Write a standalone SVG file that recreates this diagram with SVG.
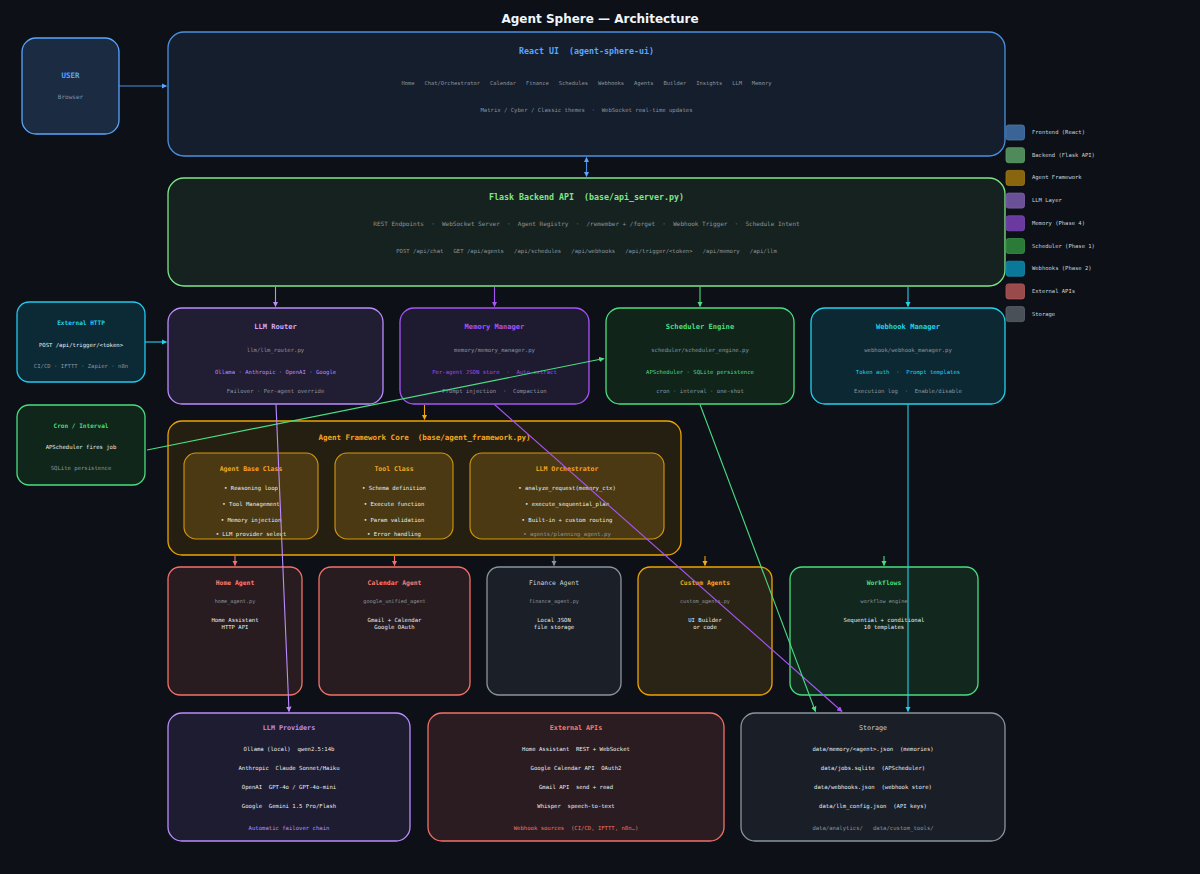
<svg xmlns="http://www.w3.org/2000/svg" width="1200" height="874" viewBox="0 0 1200 874">
<defs>
<style>
text{font-family:"DejaVu Sans Mono","Liberation Mono",monospace;text-anchor:middle}
.h{font-weight:bold}
.b{font-size:5.6px}
.g{fill:#8b949e}
.w{fill:#e6edf3}
.lg{font-size:5.5px;fill:#c9d1d9;text-anchor:start}
.c{fill:none;stroke-width:1.1}
</style>
<marker id="aBlue" viewBox="0 0 10 10" refX="9" refY="5" markerWidth="5" markerHeight="5" orient="auto-start-reverse"><path d="M0,0L10,5L0,10z" fill="#58a6ff"/></marker>
<marker id="aPur" viewBox="0 0 10 10" refX="9" refY="5" markerWidth="5" markerHeight="5" orient="auto"><path d="M0,0L10,5L0,10z" fill="#bc8cff"/></marker>
<marker id="aVio" viewBox="0 0 10 10" refX="9" refY="5" markerWidth="5" markerHeight="5" orient="auto"><path d="M0,0L10,5L0,10z" fill="#a855f7"/></marker>
<marker id="aGrn" viewBox="0 0 10 10" refX="9" refY="5" markerWidth="5" markerHeight="5" orient="auto"><path d="M0,0L10,5L0,10z" fill="#4ade80"/></marker>
<marker id="aCyn" viewBox="0 0 10 10" refX="9" refY="5" markerWidth="5" markerHeight="5" orient="auto"><path d="M0,0L10,5L0,10z" fill="#22d3ee"/></marker>
<marker id="aOrg" viewBox="0 0 10 10" refX="9" refY="5" markerWidth="5" markerHeight="5" orient="auto"><path d="M0,0L10,5L0,10z" fill="#f5a623"/></marker>
<marker id="aRed" viewBox="0 0 10 10" refX="9" refY="5" markerWidth="5" markerHeight="5" orient="auto"><path d="M0,0L10,5L0,10z" fill="#f47067"/></marker>
<marker id="aGry" viewBox="0 0 10 10" refX="9" refY="5" markerWidth="5" markerHeight="5" orient="auto"><path d="M0,0L10,5L0,10z" fill="#8b949e"/></marker>
</defs>
<rect width="1200" height="874" fill="#0d1117"/>
<text x="600" y="22.5" style="font-family:'DejaVu Sans',sans-serif;font-size:12px;font-weight:bold" fill="#f0f6fc">Agent Sphere — Architecture</text>

<g id="user">
<rect x="22" y="38" width="97" height="96" rx="14" fill="#1b2b42" stroke="#58a6ff" stroke-width="1.3"/>
<text x="70.5" y="77.7" class="h" font-size="7.5" fill="#58a6ff">USER</text>
<text x="70.5" y="99" font-size="6" class="g">Browser</text>
</g>

<g id="react-ui">
<rect x="168" y="32" width="837" height="124" rx="16" fill="#141e2d" stroke="#4a90e2" stroke-width="1.3"/>
<text x="586.5" y="54" class="h" font-size="8.3" fill="#58a6ff" xml:space="preserve">React UI  (agent-sphere-ui)</text>
<text x="586.5" y="85" font-size="5.45" class="g" xml:space="preserve">Home   Chat/Orchestrator   Calendar   Finance   Schedules   Webhooks   Agents   Builder   Insights   LLM   Memory</text>
<text x="586.5" y="112" class="b g" xml:space="preserve">Matrix / Cyber / Classic themes  ·  WebSocket real-time updates</text>
</g>

<g id="flask">
<rect x="168" y="178" width="837" height="108" rx="16" fill="#16221f" stroke="#7ee787" stroke-width="1.3"/>
<text x="586.5" y="200" class="h" font-size="8.3" fill="#7ee787" xml:space="preserve">Flask Backend API  (base/api_server.py)</text>
<text x="586.5" y="226.2" font-size="6" class="g" xml:space="preserve">REST Endpoints  ·  WebSocket Server  ·  Agent Registry  ·  /remember + /forget  ·  Webhook Trigger  ·  Schedule Intent</text>
<text x="586.5" y="253" class="b g" xml:space="preserve">POST /api/chat   GET /api/agents   /api/schedules   /api/webhooks   /api/trigger/&lt;token&gt;   /api/memory   /api/llm</text>
</g>

<g id="legend">
<rect x="1006" y="125" width="18.5" height="15" rx="2.5" fill="#3b6496" stroke="#4a78b0" stroke-width="0.8"/>
<text x="1032" y="134" class="lg">Frontend (React)</text>
<rect x="1006" y="147.7" width="18.5" height="15" rx="2.5" fill="#4e8a5a" stroke="#5ea06a" stroke-width="0.8"/>
<text x="1032" y="156.7" class="lg">Backend (Flask API)</text>
<rect x="1006" y="170.4" width="18.5" height="15" rx="2.5" fill="#8a6510" stroke="#a07818" stroke-width="0.8"/>
<text x="1032" y="179.4" class="lg">Agent Framework</text>
<rect x="1006" y="193.1" width="18.5" height="15" rx="2.5" fill="#6a5096" stroke="#7e62ac" stroke-width="0.8"/>
<text x="1032" y="202.1" class="lg">LLM Layer</text>
<rect x="1006" y="215.8" width="18.5" height="15" rx="2.5" fill="#6a3aa0" stroke="#7c4ab4" stroke-width="0.8"/>
<text x="1032" y="224.8" class="lg">Memory (Phase 4)</text>
<rect x="1006" y="238.5" width="18.5" height="15" rx="2.5" fill="#2a7a38" stroke="#3a9048" stroke-width="0.8"/>
<text x="1032" y="247.5" class="lg">Scheduler (Phase 1)</text>
<rect x="1006" y="261.2" width="18.5" height="15" rx="2.5" fill="#0a7898" stroke="#1a8cb0" stroke-width="0.8"/>
<text x="1032" y="270.2" class="lg">Webhooks (Phase 2)</text>
<rect x="1006" y="283.9" width="18.5" height="15" rx="2.5" fill="#9a4a4a" stroke="#b05c5c" stroke-width="0.8"/>
<text x="1032" y="292.9" class="lg">External APIs</text>
<rect x="1006" y="306.6" width="18.5" height="15" rx="2.5" fill="#4a5058" stroke="#5c636c" stroke-width="0.8"/>
<text x="1032" y="315.6" class="lg">Storage</text>
</g>

<g id="external-http">
<rect x="17" y="302" width="128" height="80" rx="12" fill="#0b2a35" stroke="#22c8ee" stroke-width="1.3"/>
<text x="81" y="325.2" class="h" font-size="6.1" fill="#22d3ee">External HTTP</text>
<text x="81" y="347" class="b w">POST /api/trigger/&lt;token&gt;</text>
<text x="81" y="368" class="b g">CI/CD · IFTTT · Zapier · n8n</text>
</g>

<g id="cron">
<rect x="17" y="405" width="128" height="80" rx="12" fill="#11261a" stroke="#4ade80" stroke-width="1.3"/>
<text x="81" y="428.2" class="h" font-size="6.1" fill="#4ade80">Cron / Interval</text>
<text x="81" y="449" class="b w">APScheduler fires job</text>
<text x="81" y="470" class="b g">SQLite persistence</text>
</g>

<g id="llm-router">
<rect x="168" y="308" width="215" height="96" rx="14" fill="#211d33" stroke="#bc8cff" stroke-width="1.3"/>
<text x="275.5" y="328.6" class="h" font-size="7.1" fill="#d2a8ff">LLM Router</text>
<text x="275.5" y="352" class="b g">llm/llm_router.py</text>
<text x="275.5" y="374" class="b" fill="#bc8cff">Ollama · Anthropic · OpenAI · Google</text>
<text x="275.5" y="393" class="b g">Failover · Per-agent override</text>
</g>

<g id="memory-manager">
<rect x="400" y="308" width="189" height="96" rx="14" fill="#1e1a30" stroke="#a855f7" stroke-width="1.3"/>
<text x="494.5" y="328.6" class="h" font-size="7.1" fill="#a855f7">Memory Manager</text>
<text x="494.5" y="352" class="b g">memory/memory_manager.py</text>
<text x="494.5" y="374" class="b" fill="#9b4ee8" xml:space="preserve">Per-agent JSON store  ·  Auto-extract</text>
<text x="494.5" y="393" class="b g" xml:space="preserve">Prompt injection  ·  Compaction</text>
</g>

<g id="scheduler-engine">
<rect x="606" y="308" width="188" height="96" rx="14" fill="#10241a" stroke="#4ade80" stroke-width="1.3"/>
<text x="700" y="328.6" class="h" font-size="7.1" fill="#4ade80">Scheduler Engine</text>
<text x="700" y="352" class="b g">scheduler/scheduler_engine.py</text>
<text x="700" y="374" class="b" fill="#4ade80">APScheduler · SQLite persistence</text>
<text x="700" y="393" class="b g">cron · interval · one-shot</text>
</g>

<g id="webhook-manager">
<rect x="811" y="308" width="194" height="96" rx="14" fill="#0b2833" stroke="#22d3ee" stroke-width="1.3"/>
<text x="908" y="328.6" class="h" font-size="7.1" fill="#22d3ee">Webhook Manager</text>
<text x="908" y="352" class="b g">webhook/webhook_manager.py</text>
<text x="908" y="374" class="b" fill="#22d3ee" xml:space="preserve">Token auth  ·  Prompt templates</text>
<text x="908" y="393" class="b g" xml:space="preserve">Execution log  ·  Enable/disable</text>
</g>

<g id="agent-framework">
<rect x="168" y="421" width="513" height="134" rx="14" fill="#241f10" stroke="#f0a500" stroke-width="1.3"/>
<text x="424.5" y="439.7" class="h" font-size="7.5" fill="#f5a623" xml:space="preserve">Agent Framework Core  (base/agent_framework.py)</text>
</g>

<g id="agent-base-class">
<rect x="184" y="453" width="134" height="86" rx="12" fill="#4a3912" stroke="#d4980f" stroke-width="1.1"/>
<text x="251" y="471.3" class="h" font-size="6.5" fill="#f5a623">Agent Base Class</text>
<text x="251" y="490" class="b w">• Reasoning loop</text>
<text x="251" y="506" class="b w">• Tool Management</text>
<text x="251" y="522" class="b w">• Memory injection</text>
<text x="251" y="536" class="b w">• LLM provider select</text>
</g>

<g id="tool-class">
<rect x="335" y="453" width="118" height="86" rx="12" fill="#4a3912" stroke="#d4980f" stroke-width="1.1"/>
<text x="394" y="471.3" class="h" font-size="6.5" fill="#f5a623">Tool Class</text>
<text x="394" y="490" class="b w">• Schema definition</text>
<text x="394" y="506" class="b w">• Execute function</text>
<text x="394" y="522" class="b w">• Param validation</text>
<text x="394" y="536" class="b w">• Error handling</text>
</g>

<g id="llm-orchestrator">
<rect x="470" y="453" width="194" height="86" rx="12" fill="#4a3912" stroke="#d4980f" stroke-width="1.1"/>
<text x="567" y="471.3" class="h" font-size="6.5" fill="#f5a623">LLM Orchestrator</text>
<text x="567" y="490" class="b w">• analyze_request(memory_ctx)</text>
<text x="567" y="506" class="b w">• execute_sequential_plan</text>
<text x="567" y="522" class="b w">• Built-in + custom routing</text>
<text x="567" y="536" class="b g">• agents/planning_agent.py</text>
</g>

<g id="home-agent">
<rect x="168" y="567" width="134" height="128" rx="12" fill="#281c20" stroke="#f47067" stroke-width="1.3"/>
<text x="235" y="585" class="h" font-size="6.4" fill="#ff7b72">Home Agent</text>
<text x="235" y="603" font-size="5.2" class="g">home_agent.py</text>
<text x="235" y="622" class="b w">Home Assistant</text>
<text x="235" y="628.5" class="b w">HTTP API</text>
</g>

<g id="calendar-agent">
<rect x="319" y="567" width="151" height="128" rx="12" fill="#281c20" stroke="#f47067" stroke-width="1.3"/>
<text x="394.5" y="585" class="h" font-size="6.4" fill="#ff7b72">Calendar Agent</text>
<text x="394.5" y="603" font-size="5.2" class="g">google_unified_agent</text>
<text x="394.5" y="622" class="b w">Gmail + Calendar</text>
<text x="394.5" y="628.5" class="b w">Google OAuth</text>
</g>

<g id="finance-agent">
<rect x="487" y="567" width="134" height="128" rx="12" fill="#1b1f27" stroke="#8b949e" stroke-width="1.3"/>
<text x="554" y="585" font-size="6.4" fill="#c9d1d9">Finance Agent</text>
<text x="554" y="603" font-size="5.2" class="g">finance_agent.py</text>
<text x="554" y="622" class="b w">Local JSON</text>
<text x="554" y="628.5" class="b w">file storage</text>
</g>

<g id="custom-agents">
<rect x="638" y="567" width="134" height="128" rx="12" fill="#2a2416" stroke="#f0a500" stroke-width="1.3"/>
<text x="705" y="585" class="h" font-size="6.4" fill="#f5a623">Custom Agents</text>
<text x="705" y="603" font-size="5.2" class="g">custom_agents.py</text>
<text x="705" y="622" class="b w">UI Builder</text>
<text x="705" y="628.5" class="b w">or code</text>
</g>

<g id="workflows">
<rect x="790" y="567" width="188" height="128" rx="12" fill="#12281e" stroke="#4ade80" stroke-width="1.3"/>
<text x="884" y="585" class="h" font-size="6.4" fill="#4ade80">Workflows</text>
<text x="884" y="603" font-size="5.2" class="g">workflow engine</text>
<text x="884" y="622" class="b w">Sequential + conditional</text>
<text x="884" y="628.5" class="b w">10 templates</text>
</g>

<g id="llm-providers">
<rect x="168" y="713" width="242" height="128" rx="14" fill="#1e1c30" stroke="#bc8cff" stroke-width="1.3"/>
<text x="289" y="730.4" class="h" font-size="6.7" fill="#bc8cff">LLM Providers</text>
<text x="289" y="751.3" class="b w" xml:space="preserve">Ollama (local)  qwen2.5:14b</text>
<text x="289" y="770" class="b w" xml:space="preserve">Anthropic  Claude Sonnet/Haiku</text>
<text x="289" y="789" class="b w" xml:space="preserve">OpenAI  GPT-4o / GPT-4o-mini</text>
<text x="289" y="808" class="b w" xml:space="preserve">Google  Gemini 1.5 Pro/Flash</text>
<text x="289" y="830" class="b" fill="#bc8cff">Automatic failover chain</text>
</g>

<g id="external-apis">
<rect x="428" y="713" width="296" height="128" rx="14" fill="#2a1c20" stroke="#f47067" stroke-width="1.3"/>
<text x="576" y="730.4" class="h" font-size="6.7" fill="#ff7b72">External APIs</text>
<text x="576" y="751.3" class="b w" xml:space="preserve">Home Assistant  REST + WebSocket</text>
<text x="576" y="770" class="b w" xml:space="preserve">Google Calendar API  OAuth2</text>
<text x="576" y="789" class="b w" xml:space="preserve">Gmail API  send + read</text>
<text x="576" y="808" class="b w" xml:space="preserve">Whisper  speech-to-text</text>
<text x="576" y="830" class="b" fill="#f47067" xml:space="preserve">Webhook sources  (CI/CD, IFTTT, n8n…)</text>
</g>

<g id="storage">
<rect x="741" y="713" width="264" height="128" rx="14" fill="#1a1e26" stroke="#8b949e" stroke-width="1.3"/>
<text x="873" y="730.4" font-size="6.7" fill="#c9d1d9">Storage</text>
<text x="873" y="751.3" class="b w" xml:space="preserve">data/memory/&lt;agent&gt;.json  (memories)</text>
<text x="873" y="770" class="b w" xml:space="preserve">data/jobs.sqlite  (APScheduler)</text>
<text x="873" y="789" class="b w" xml:space="preserve">data/webhooks.json  (webhook store)</text>
<text x="873" y="808" class="b w" xml:space="preserve">data/llm_config.json  (API keys)</text>
<text x="873" y="830" class="b g" xml:space="preserve">data/analytics/   data/custom_tools/</text>
</g>

<g id="connectors">
<line class="c" x1="119" y1="86" x2="166.5" y2="86" stroke="#4a90e2" marker-end="url(#aBlue)"/>
<line class="c" x1="586.5" y1="157.5" x2="586.5" y2="176.5" stroke="#4a90e2" marker-start="url(#aBlue)" marker-end="url(#aBlue)"/>
<line class="c" x1="275.5" y1="287" x2="275.5" y2="306.5" stroke="#bc8cff" marker-end="url(#aPur)"/>
<line class="c" x1="494.5" y1="287" x2="494.5" y2="306.5" stroke="#a855f7" marker-end="url(#aVio)"/>
<line class="c" x1="700" y1="287" x2="700" y2="306.5" stroke="#4ade80" marker-end="url(#aGrn)"/>
<line class="c" x1="908" y1="287" x2="908" y2="306.5" stroke="#22d3ee" marker-end="url(#aCyn)"/>
<line class="c" x1="145" y1="342" x2="166.5" y2="342" stroke="#22d3ee" marker-end="url(#aCyn)"/>
<line class="c" x1="147" y1="450" x2="604" y2="358.5" stroke="#4ade80" marker-end="url(#aGrn)"/>
<line class="c" x1="424.5" y1="405" x2="424.5" y2="419.5" stroke="#f0a500" marker-end="url(#aOrg)"/>
<line class="c" x1="235" y1="556" x2="235" y2="565.5" stroke="#f47067" marker-end="url(#aRed)"/>
<line class="c" x1="394.5" y1="556" x2="394.5" y2="565.5" stroke="#f47067" marker-end="url(#aRed)"/>
<line class="c" x1="554" y1="556" x2="554" y2="565.5" stroke="#8b949e" marker-end="url(#aGry)"/>
<line class="c" x1="705" y1="556" x2="705" y2="565.5" stroke="#f0a500" marker-end="url(#aOrg)"/>
<line class="c" x1="884" y1="556" x2="884" y2="565.5" stroke="#4ade80" marker-end="url(#aGrn)"/>
<line class="c" x1="276" y1="404.5" x2="289" y2="711.5" stroke="#bc8cff" marker-end="url(#aPur)"/>
<line class="c" x1="494.5" y1="404.5" x2="842" y2="711.5" stroke="#a855f7" marker-end="url(#aVio)"/>
<line class="c" x1="700" y1="404.5" x2="815.5" y2="711.5" stroke="#4ade80" marker-end="url(#aGrn)"/>
<line class="c" x1="908" y1="404.5" x2="908" y2="711.5" stroke="#22d3ee" marker-end="url(#aCyn)"/>
</g>
</svg>
